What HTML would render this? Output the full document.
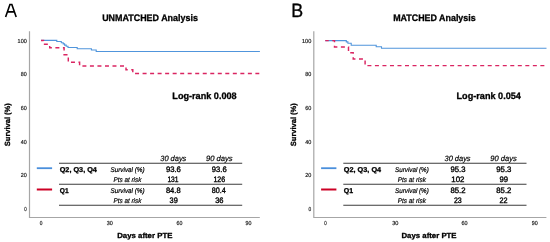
<!DOCTYPE html>
<html><head><meta charset="utf-8"><style>
html,body{margin:0;padding:0;background:#fff;width:550px;height:242px;overflow:hidden}
svg{display:block;will-change:transform}
text{font-family:"Liberation Sans",sans-serif;text-rendering:geometricPrecision}
</style></head><body>
<svg width="550" height="242" viewBox="0 0 550 242">
<rect width="550" height="242" fill="#fff"/>
<path d="M29.50 31.3 V217.5 H259.80" fill="none" stroke="#a6a6a6" stroke-width="1.2"/>
<path d="M36.80 168.2 H52.10" stroke="#4a8fdc" stroke-width="1.8"/>
<path d="M36.80 189.5 H52.10" stroke="#cc0025" stroke-width="2"/>
<path d="M59.00 163.20 H242.20" stroke="#3c3c3c" stroke-width="1.1"/>
<path d="M59.00 184.30 H242.20" stroke="#3c3c3c" stroke-width="1.1"/>
<path d="M59.00 205.30 H242.20" stroke="#3c3c3c" stroke-width="1.1"/>
<path d="M313.80 31.3 V217.5 H546.40" fill="none" stroke="#a6a6a6" stroke-width="1.2"/>
<path d="M321.10 168.2 H336.40" stroke="#4a8fdc" stroke-width="1.8"/>
<path d="M321.10 189.5 H336.40" stroke="#cc0025" stroke-width="2"/>
<path d="M343.30 163.20 H526.50" stroke="#3c3c3c" stroke-width="1.1"/>
<path d="M343.30 184.30 H526.50" stroke="#3c3c3c" stroke-width="1.1"/>
<path d="M343.30 205.30 H526.50" stroke="#3c3c3c" stroke-width="1.1"/>
<path d="M41 40.4 H56.8 V41.5 H61.3 V42.7 H63.2 V43.9 H64.6 V45.1 H66.2 V46.3 H68 V47.5 H77.2 V48.7 H91.4 V50 H96.2 V51.45 H259.9" fill="none" stroke="#5095dc" stroke-width="1.1"/>
<path d="M325.3 40.6 H346.3 V41.9 H347.9 V43.3 H351.2 V45.3 H376.2 V46.8 H381.5 V48.3 H546.5" fill="none" stroke="#5095dc" stroke-width="1.1"/>
<path d="M41 40.4 H43.5 V44.3 H49.7 V47.8 H64.1 V54.7 H68.3 V62.3 H79.6 V65.9 H126 V69.7 H132.8 V73.4 H259.3" fill="none" stroke="#da2562" stroke-width="1.45" stroke-dasharray="4 3.52" stroke-dashoffset="0.78"/>
<path d="M325.3 40.6 H334.5 V47 H348.5 V52.7 H353.2 V59 H365.1 V65.6 H544.4" fill="none" stroke="#da2562" stroke-width="1.45" stroke-dasharray="4 3.52" stroke-dashoffset="0.58"/>
<path d="M5.6 16.95 L9.95 4.55 H11.85 L16.2 16.95 M7.3 11.9 H14.5" fill="none" stroke="#000" stroke-width="1.6" stroke-linejoin="miter"/>
<text id="a_title" x="102.15" y="20.60" font-size="9.50" font-weight="bold" stroke="#000000" stroke-width="0.30" stroke-linejoin="round"  fill="#000000" textLength="95.74" lengthAdjust="spacingAndGlyphs">UNMATCHED Analysis</text>
<text id="a_logrank" x="172.33" y="98.80" font-size="9.40" font-weight="bold" stroke="#000000" stroke-width="0.30" stroke-linejoin="round"  fill="#000000" textLength="64.31" lengthAdjust="spacingAndGlyphs">Log-rank 0.008</text>
<text id="a_yt100" x="17.60" y="42.70" font-size="5.80"  stroke="#222222" stroke-width="0.20" stroke-linejoin="round"  fill="#222222" textLength="9.12" lengthAdjust="spacingAndGlyphs">100</text>
<text id="a_yt80" x="20.73" y="76.40" font-size="5.80"  stroke="#222222" stroke-width="0.20" stroke-linejoin="round"  fill="#222222" textLength="5.94" lengthAdjust="spacingAndGlyphs">80</text>
<text id="a_yt60" x="20.78" y="110.20" font-size="5.80"  stroke="#222222" stroke-width="0.20" stroke-linejoin="round"  fill="#222222" textLength="6.01" lengthAdjust="spacingAndGlyphs">60</text>
<text id="a_yt40" x="20.71" y="144.00" font-size="5.80"  stroke="#222222" stroke-width="0.20" stroke-linejoin="round"  fill="#222222" textLength="5.91" lengthAdjust="spacingAndGlyphs">40</text>
<text id="a_yt20" x="20.64" y="177.40" font-size="5.80"  stroke="#222222" stroke-width="0.20" stroke-linejoin="round"  fill="#222222" textLength="6.04" lengthAdjust="spacingAndGlyphs">20</text>
<text id="a_yt0" x="24.22" y="211.00" font-size="5.80"  stroke="#222222" stroke-width="0.20" stroke-linejoin="round"  fill="#222222" textLength="2.44" lengthAdjust="spacingAndGlyphs">0</text>
<text id="a_xt0" x="39.66" y="225.20" font-size="5.80"  stroke="#222222" stroke-width="0.20" stroke-linejoin="round"  fill="#222222" textLength="2.70" lengthAdjust="spacingAndGlyphs">0</text>
<text id="a_xt30" x="106.71" y="225.20" font-size="5.80"  stroke="#222222" stroke-width="0.20" stroke-linejoin="round"  fill="#222222" textLength="6.05" lengthAdjust="spacingAndGlyphs">30</text>
<text id="a_xt60" x="176.53" y="225.20" font-size="5.80"  stroke="#222222" stroke-width="0.20" stroke-linejoin="round"  fill="#222222" textLength="5.86" lengthAdjust="spacingAndGlyphs">60</text>
<text id="a_xt90" x="245.55" y="225.20" font-size="5.80"  stroke="#222222" stroke-width="0.20" stroke-linejoin="round"  fill="#222222" textLength="5.93" lengthAdjust="spacingAndGlyphs">90</text>
<text id="a_xlab" x="117.24" y="238.40" font-size="7.40" font-weight="bold" stroke="#000000" stroke-width="0.30" stroke-linejoin="round"  fill="#000000" textLength="55.13" lengthAdjust="spacingAndGlyphs">Days after PTE</text>
<text id="a_ylab" transform="rotate(-90)" x="-146.22" y="9.60" font-size="7.50" font-weight="bold" stroke="#000000" stroke-width="0.30" stroke-linejoin="round"  fill="#000000" textLength="43.03" lengthAdjust="spacingAndGlyphs">Survival (%)</text>
<text id="a_h30" x="160.26" y="160.80" font-size="7.70"  stroke="#000000" stroke-width="0.20" stroke-linejoin="round" font-style="italic" fill="#000000" textLength="26.11" lengthAdjust="spacingAndGlyphs">30 days</text>
<text id="a_h90" x="205.93" y="160.80" font-size="7.70"  stroke="#000000" stroke-width="0.20" stroke-linejoin="round" font-style="italic" fill="#000000" textLength="26.65" lengthAdjust="spacingAndGlyphs">90 days</text>
<text id="a_g1" x="59.70" y="171.80" font-size="7.10" font-weight="bold" stroke="#000000" stroke-width="0.30" stroke-linejoin="round"  fill="#000000" textLength="37.20" lengthAdjust="spacingAndGlyphs">Q2, Q3, Q4</text>
<text id="a_g2" x="59.76" y="192.70" font-size="7.10" font-weight="bold" stroke="#000000" stroke-width="0.30" stroke-linejoin="round"  fill="#000000" textLength="8.83" lengthAdjust="spacingAndGlyphs">Q1</text>
<text id="a_sv1" x="110.52" y="171.50" font-size="6.80"  stroke="#000000" stroke-width="0.20" stroke-linejoin="round" font-style="italic" fill="#000000" textLength="34.09" lengthAdjust="spacingAndGlyphs">Survival (%)</text>
<text id="a_sv3" x="110.52" y="192.60" font-size="6.80"  stroke="#000000" stroke-width="0.20" stroke-linejoin="round" font-style="italic" fill="#000000" textLength="34.09" lengthAdjust="spacingAndGlyphs">Survival (%)</text>
<text id="a_pr2" x="113.57" y="181.70" font-size="6.80"  stroke="#000000" stroke-width="0.20" stroke-linejoin="round" font-style="italic" fill="#000000" textLength="27.73" lengthAdjust="spacingAndGlyphs">Pts at risk</text>
<text id="a_pr4" x="113.57" y="202.50" font-size="6.80"  stroke="#000000" stroke-width="0.20" stroke-linejoin="round" font-style="italic" fill="#000000" textLength="27.73" lengthAdjust="spacingAndGlyphs">Pts at risk</text>
<text id="a_n00" x="165.89" y="171.90" font-size="7.90"  stroke="#000000" stroke-width="0.35" stroke-linejoin="round"  fill="#000000" textLength="15.04" lengthAdjust="spacingAndGlyphs">93.6</text>
<text id="a_n01" x="211.83" y="171.90" font-size="7.90"  stroke="#000000" stroke-width="0.35" stroke-linejoin="round"  fill="#000000" textLength="14.82" lengthAdjust="spacingAndGlyphs">93.6</text>
<text id="a_n10" x="167.38" y="182.00" font-size="7.90"  stroke="#000000" stroke-width="0.35" stroke-linejoin="round"  fill="#000000" textLength="11.22" lengthAdjust="spacingAndGlyphs">131</text>
<text id="a_n11" x="213.44" y="182.00" font-size="7.90"  stroke="#000000" stroke-width="0.35" stroke-linejoin="round"  fill="#000000" textLength="11.79" lengthAdjust="spacingAndGlyphs">126</text>
<text id="a_n20" x="165.94" y="192.60" font-size="7.90"  stroke="#000000" stroke-width="0.35" stroke-linejoin="round"  fill="#000000" textLength="14.62" lengthAdjust="spacingAndGlyphs">84.8</text>
<text id="a_n21" x="211.80" y="192.60" font-size="7.90"  stroke="#000000" stroke-width="0.35" stroke-linejoin="round"  fill="#000000" textLength="14.07" lengthAdjust="spacingAndGlyphs">80.4</text>
<text id="a_n30" x="169.56" y="202.60" font-size="7.90"  stroke="#000000" stroke-width="0.35" stroke-linejoin="round"  fill="#000000" textLength="8.23" lengthAdjust="spacingAndGlyphs">39</text>
<text id="a_n31" x="215.13" y="202.60" font-size="7.90"  stroke="#000000" stroke-width="0.35" stroke-linejoin="round"  fill="#000000" textLength="8.35" lengthAdjust="spacingAndGlyphs">36</text>
<text id="b_letter" x="291.32" y="17.00" font-size="19.30"  stroke="#000000" stroke-width="0.35" stroke-linejoin="round"  fill="#000000" textLength="11.90" lengthAdjust="spacingAndGlyphs">B</text>
<text id="b_title" x="393.18" y="20.60" font-size="9.50" font-weight="bold" stroke="#000000" stroke-width="0.30" stroke-linejoin="round"  fill="#000000" textLength="82.48" lengthAdjust="spacingAndGlyphs">MATCHED Analysis</text>
<text id="b_logrank" x="456.47" y="98.80" font-size="9.40" font-weight="bold" stroke="#000000" stroke-width="0.30" stroke-linejoin="round"  fill="#000000" textLength="64.46" lengthAdjust="spacingAndGlyphs">Log-rank 0.054</text>
<text id="b_yt100" x="301.93" y="42.70" font-size="5.80"  stroke="#222222" stroke-width="0.20" stroke-linejoin="round"  fill="#222222" textLength="9.34" lengthAdjust="spacingAndGlyphs">100</text>
<text id="b_yt80" x="305.15" y="76.40" font-size="5.80"  stroke="#222222" stroke-width="0.20" stroke-linejoin="round"  fill="#222222" textLength="6.07" lengthAdjust="spacingAndGlyphs">80</text>
<text id="b_yt60" x="305.17" y="110.20" font-size="5.80"  stroke="#222222" stroke-width="0.20" stroke-linejoin="round"  fill="#222222" textLength="6.14" lengthAdjust="spacingAndGlyphs">60</text>
<text id="b_yt40" x="305.19" y="144.00" font-size="5.80"  stroke="#222222" stroke-width="0.20" stroke-linejoin="round"  fill="#222222" textLength="6.12" lengthAdjust="spacingAndGlyphs">40</text>
<text id="b_yt20" x="305.18" y="177.40" font-size="5.80"  stroke="#222222" stroke-width="0.20" stroke-linejoin="round"  fill="#222222" textLength="6.12" lengthAdjust="spacingAndGlyphs">20</text>
<text id="b_yt0" x="308.60" y="211.00" font-size="5.80"  stroke="#222222" stroke-width="0.20" stroke-linejoin="round"  fill="#222222" textLength="2.70" lengthAdjust="spacingAndGlyphs">0</text>
<text id="b_xt0" x="324.22" y="225.20" font-size="5.80"  stroke="#222222" stroke-width="0.20" stroke-linejoin="round"  fill="#222222" textLength="2.44" lengthAdjust="spacingAndGlyphs">0</text>
<text id="b_xt30" x="392.25" y="225.20" font-size="5.80"  stroke="#222222" stroke-width="0.20" stroke-linejoin="round"  fill="#222222" textLength="6.23" lengthAdjust="spacingAndGlyphs">30</text>
<text id="b_xt60" x="461.59" y="225.20" font-size="5.80"  stroke="#222222" stroke-width="0.20" stroke-linejoin="round"  fill="#222222" textLength="6.06" lengthAdjust="spacingAndGlyphs">60</text>
<text id="b_xt90" x="531.74" y="225.20" font-size="5.80"  stroke="#222222" stroke-width="0.20" stroke-linejoin="round"  fill="#222222" textLength="5.95" lengthAdjust="spacingAndGlyphs">90</text>
<text id="b_xlab" x="401.48" y="238.40" font-size="7.40" font-weight="bold" stroke="#000000" stroke-width="0.30" stroke-linejoin="round"  fill="#000000" textLength="55.10" lengthAdjust="spacingAndGlyphs">Days after PTE</text>
<text id="b_ylab" transform="rotate(-90)" x="-146.22" y="295.50" font-size="7.50" font-weight="bold" stroke="#000000" stroke-width="0.30" stroke-linejoin="round"  fill="#000000" textLength="43.03" lengthAdjust="spacingAndGlyphs">Survival (%)</text>
<text id="b_h30" x="444.51" y="160.80" font-size="7.70"  stroke="#000000" stroke-width="0.20" stroke-linejoin="round" font-style="italic" fill="#000000" textLength="26.10" lengthAdjust="spacingAndGlyphs">30 days</text>
<text id="b_h90" x="490.36" y="160.80" font-size="7.70"  stroke="#000000" stroke-width="0.20" stroke-linejoin="round" font-style="italic" fill="#000000" textLength="26.31" lengthAdjust="spacingAndGlyphs">90 days</text>
<text id="b_g1" x="343.85" y="171.80" font-size="7.10" font-weight="bold" stroke="#000000" stroke-width="0.30" stroke-linejoin="round"  fill="#000000" textLength="37.29" lengthAdjust="spacingAndGlyphs">Q2, Q3, Q4</text>
<text id="b_g2" x="343.81" y="192.70" font-size="7.10" font-weight="bold" stroke="#000000" stroke-width="0.30" stroke-linejoin="round"  fill="#000000" textLength="9.33" lengthAdjust="spacingAndGlyphs">Q1</text>
<text id="b_sv1" x="395.12" y="171.50" font-size="6.80"  stroke="#000000" stroke-width="0.20" stroke-linejoin="round" font-style="italic" fill="#000000" textLength="33.61" lengthAdjust="spacingAndGlyphs">Survival (%)</text>
<text id="b_sv3" x="395.12" y="192.60" font-size="6.80"  stroke="#000000" stroke-width="0.20" stroke-linejoin="round" font-style="italic" fill="#000000" textLength="33.61" lengthAdjust="spacingAndGlyphs">Survival (%)</text>
<text id="b_pr2" x="397.77" y="181.70" font-size="6.80"  stroke="#000000" stroke-width="0.20" stroke-linejoin="round" font-style="italic" fill="#000000" textLength="28.11" lengthAdjust="spacingAndGlyphs">Pts at risk</text>
<text id="b_pr4" x="397.77" y="202.50" font-size="6.80"  stroke="#000000" stroke-width="0.20" stroke-linejoin="round" font-style="italic" fill="#000000" textLength="28.11" lengthAdjust="spacingAndGlyphs">Pts at risk</text>
<text id="b_n00" x="450.50" y="171.90" font-size="7.90"  stroke="#000000" stroke-width="0.35" stroke-linejoin="round"  fill="#000000" textLength="15.02" lengthAdjust="spacingAndGlyphs">95.3</text>
<text id="b_n01" x="496.26" y="171.90" font-size="7.90"  stroke="#000000" stroke-width="0.35" stroke-linejoin="round"  fill="#000000" textLength="15.19" lengthAdjust="spacingAndGlyphs">95.3</text>
<text id="b_n10" x="451.25" y="182.00" font-size="7.90"  stroke="#000000" stroke-width="0.35" stroke-linejoin="round"  fill="#000000" textLength="13.25" lengthAdjust="spacingAndGlyphs">102</text>
<text id="b_n11" x="499.53" y="182.00" font-size="7.90"  stroke="#000000" stroke-width="0.35" stroke-linejoin="round"  fill="#000000" textLength="8.60" lengthAdjust="spacingAndGlyphs">99</text>
<text id="b_n20" x="450.43" y="192.60" font-size="7.90"  stroke="#000000" stroke-width="0.35" stroke-linejoin="round"  fill="#000000" textLength="15.20" lengthAdjust="spacingAndGlyphs">85.2</text>
<text id="b_n21" x="496.31" y="192.60" font-size="7.90"  stroke="#000000" stroke-width="0.35" stroke-linejoin="round"  fill="#000000" textLength="15.13" lengthAdjust="spacingAndGlyphs">85.2</text>
<text id="b_n30" x="453.91" y="202.60" font-size="7.90"  stroke="#000000" stroke-width="0.35" stroke-linejoin="round"  fill="#000000" textLength="7.82" lengthAdjust="spacingAndGlyphs">23</text>
<text id="b_n31" x="499.55" y="202.60" font-size="7.90"  stroke="#000000" stroke-width="0.35" stroke-linejoin="round"  fill="#000000" textLength="8.10" lengthAdjust="spacingAndGlyphs">22</text>
</svg>
</body></html>
